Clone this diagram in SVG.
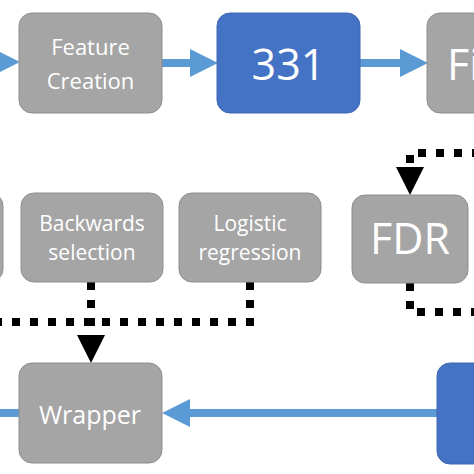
<svg xmlns="http://www.w3.org/2000/svg" width="474" height="474" viewBox="0 0 474 474">
<defs>
<style>
.g{fill:#a5a5a5;stroke:#8e8e8e;stroke-width:1}
.b{fill:#4472c4;stroke:#3f68b3;stroke-width:1}
.t{fill:#ffffff;font-family:"Open Sans","Noto Sans",sans-serif;text-anchor:middle}
.blue{stroke:#5b9bd5;stroke-width:8;fill:none}
.dot{stroke:#000;stroke-width:8;fill:none;stroke-dasharray:8 10}
</style>
<marker id="bh" markerUnits="userSpaceOnUse" viewBox="0 0 28 28" refX="0" refY="14" markerWidth="28" markerHeight="28" orient="auto">
<path d="M0,0 L28,14 L0,28 z" fill="#5b9bd5"/>
</marker>
<marker id="kh" markerUnits="userSpaceOnUse" viewBox="0 0 28 28" refX="0" refY="14" markerWidth="28" markerHeight="28" orient="auto">
<path d="M0,0 L28,14 L0,28 z" fill="#000"/>
</marker>
</defs>
<rect width="474" height="474" fill="#ffffff"/>
<g id="connectors">
<line class="blue" x1="-30" y1="62" x2="-8" y2="62" marker-end="url(#bh)"/>
<line class="blue" x1="162" y1="63" x2="190" y2="63" marker-end="url(#bh)"/>
<line class="blue" x1="360" y1="63" x2="400" y2="63" marker-end="url(#bh)"/>
<line class="blue" x1="437" y1="413" x2="190" y2="413" marker-end="url(#bh)"/>
<line class="blue" x1="19" y1="413" x2="-10" y2="413"/>
<path class="dot" d="M91,282 V335" marker-end="url(#kh)"/>
<path class="dot" d="M250,282 V322 H-10"/>
<path class="dot" d="M480,153 H410 V167" marker-end="url(#kh)"/>
<path class="dot" d="M410,283 V312 H480"/>
</g>
<g id="feature-creation">
<rect class="g" x="19" y="13" width="143" height="100" rx="13"/>
<text class="t" x="90.5" y="55" font-size="22">Feature</text>
<text class="t" x="90.5" y="89" font-size="22">Creation</text>
</g>
<g id="n331">
<rect class="b" x="217" y="13" width="143" height="100" rx="13"/>
<text class="t" x="288.5" y="80" font-size="43">331</text>
</g>
<g id="fi">
<rect class="g" x="427" y="13" width="143" height="100" rx="13"/>
<text class="t" x="447" y="80" font-size="43" style="text-anchor:start">Fi</text>
</g>
<g id="left-partial">
<rect class="g" x="-140" y="193" width="143" height="89" rx="13"/>
</g>
<g id="backwards-selection">
<rect class="g" x="21" y="193" width="142" height="89" rx="13"/>
<text class="t" x="92" y="231" font-size="21">Backwards</text>
<text class="t" x="92" y="260" font-size="21">selection</text>
</g>
<g id="logistic-regression">
<rect class="g" x="179" y="193" width="142" height="89" rx="13"/>
<text class="t" x="250" y="231" font-size="21">Logistic</text>
<text class="t" x="250" y="260" font-size="21">regression</text>
</g>
<g id="fdr">
<rect class="g" x="352" y="195" width="116" height="88" rx="13"/>
<text class="t" x="410" y="254" font-size="43">FDR</text>
</g>
<g id="wrapper">
<rect class="g" x="19" y="363" width="143" height="100" rx="13"/>
<text class="t" x="90" y="424" font-size="25">Wrapper</text>
</g>
<g id="blue-partial">
<rect class="b" x="437" y="363" width="143" height="101" rx="13"/>
</g>
</svg>
